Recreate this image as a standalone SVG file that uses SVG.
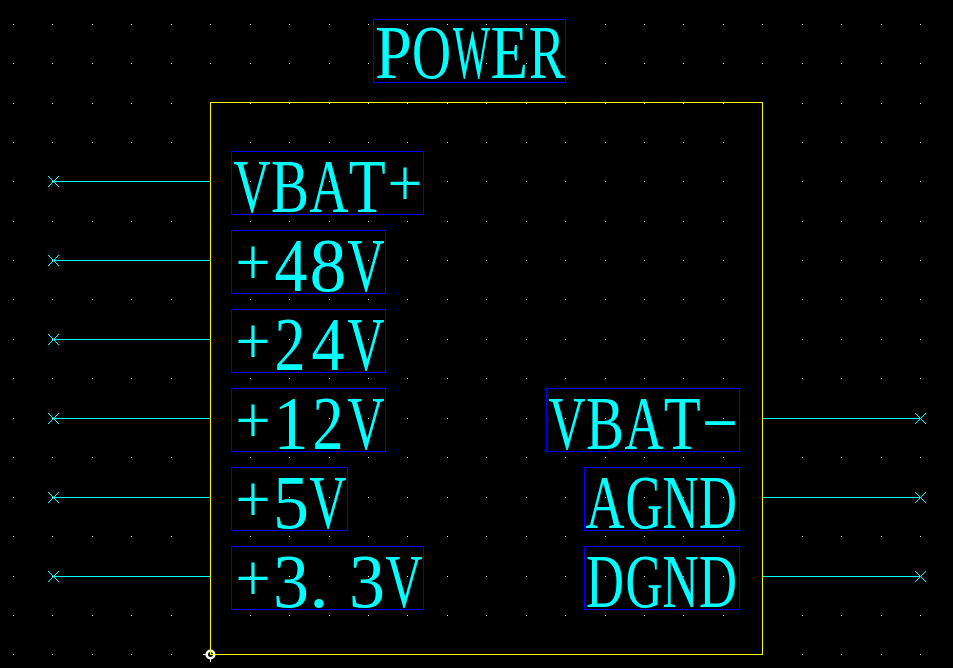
<svg xmlns="http://www.w3.org/2000/svg" xmlns:xlink="http://www.w3.org/1999/xlink" width="953" height="668" viewBox="0 0 953 668">
<style>
.lbl{font-family:"Liberation Serif","Times New Roman",serif;font-size:77px;fill:#00ffff}
.pl{font-size:68px}
.box{fill:none;stroke:#0000ff;stroke-width:1;shape-rendering:crispEdges}
.wire{stroke:#00ffff;stroke-width:1;shape-rendering:crispEdges;fill:none}
.body{fill:none;stroke:#ffff00;stroke-width:1;shape-rendering:crispEdges}
</style>
<defs>
<path id="row" fill="#ffffff" shape-rendering="crispEdges" d="M13 0h1v1h-1zM52 0h1v1h-1zM92 0h1v1h-1zM131 0h1v1h-1zM171 0h1v1h-1zM210 0h1v1h-1zM250 0h1v1h-1zM289 0h1v1h-1zM329 0h1v1h-1zM368 0h1v1h-1zM407 0h1v1h-1zM447 0h1v1h-1zM486 0h1v1h-1zM526 0h1v1h-1zM565 0h1v1h-1zM605 0h1v1h-1zM644 0h1v1h-1zM683 0h1v1h-1zM723 0h1v1h-1zM762 0h1v1h-1zM802 0h1v1h-1zM841 0h1v1h-1zM881 0h1v1h-1zM920 0h1v1h-1z"/>
<path id="x" class="wire" d="M-5.500 -5.500L5.500 5.500M-5.500 5.500L5.500 -5.500"/>
</defs>
<rect width="953" height="668" fill="#000000"/>
<g id="grid">
<use xlink:href="#row" href="#row" y="24"/><use xlink:href="#row" href="#row" y="63"/><use xlink:href="#row" href="#row" y="103"/><use xlink:href="#row" href="#row" y="142"/><use xlink:href="#row" href="#row" y="181"/><use xlink:href="#row" href="#row" y="221"/><use xlink:href="#row" href="#row" y="260"/><use xlink:href="#row" href="#row" y="299"/><use xlink:href="#row" href="#row" y="339"/><use xlink:href="#row" href="#row" y="378"/><use xlink:href="#row" href="#row" y="418"/><use xlink:href="#row" href="#row" y="457"/><use xlink:href="#row" href="#row" y="497"/><use xlink:href="#row" href="#row" y="536"/><use xlink:href="#row" href="#row" y="576"/><use xlink:href="#row" href="#row" y="615"/><use xlink:href="#row" href="#row" y="654"/>
</g>
<g id="connectors">
<path class="wire" d="M53 181.500H210M53 260.500H210M53 339.500H210M53 418.500H210M53 497.500H210M53 576.500H210M763 418.500H920M763 497.500H920M763 576.500H920"/>
<use xlink:href="#x" href="#x" x="53.500" y="181.500"/><use xlink:href="#x" href="#x" x="53.500" y="260.500"/><use xlink:href="#x" href="#x" x="53.500" y="339.500"/><use xlink:href="#x" href="#x" x="53.500" y="418.500"/><use xlink:href="#x" href="#x" x="53.500" y="497.500"/><use xlink:href="#x" href="#x" x="53.500" y="576.500"/>
<use xlink:href="#x" href="#x" x="920.500" y="418.500"/><use xlink:href="#x" href="#x" x="920.500" y="497.500"/><use xlink:href="#x" href="#x" x="920.500" y="576.500"/>
</g>
<g id="origin">
<circle cx="210.500" cy="654.500" r="3.800" fill="#000000" stroke="#ffffff" stroke-width="2.600"/>
<path d="M203 654.500H207M214 654.500H218M210.500 647V651M210.500 658V662" stroke="#ffffff" stroke-width="1" shape-rendering="crispEdges"/>
</g>
<g id="power-body"><rect class="body" x="210.500" y="102.500" width="552" height="552"/></g>
<g id="title"><rect class="box" x="373.500" y="19.500" width="192" height="63"/>
<text class="lbl" transform="scale(.5,1)" y="78"><tspan x="750" textLength="74" lengthAdjust="spacingAndGlyphs">P</tspan><tspan x="824" textLength="78" lengthAdjust="spacingAndGlyphs">O</tspan><tspan x="906" textLength="74" lengthAdjust="spacingAndGlyphs">W</tspan><tspan x="981" textLength="75" lengthAdjust="spacingAndGlyphs">E</tspan><tspan x="1058" textLength="72" lengthAdjust="spacingAndGlyphs">R</tspan></text></g>
<g id="vbat-plus"><rect class="box" x="231.500" y="151.500" width="192" height="63"/>
<text class="lbl" transform="scale(.5,1)" y="212"><tspan x="467" textLength="74" lengthAdjust="spacingAndGlyphs">V</tspan><tspan x="542" textLength="76" lengthAdjust="spacingAndGlyphs">B</tspan><tspan x="619" textLength="78" lengthAdjust="spacingAndGlyphs">A</tspan><tspan x="697.400" textLength="74" lengthAdjust="spacingAndGlyphs">T</tspan><tspan class="pl" x="775" y="206" textLength="70" lengthAdjust="spacingAndGlyphs">+</tspan></text></g>
<g id="p48v"><rect class="box" x="231.500" y="230.500" width="154" height="63"/>
<text class="lbl" transform="scale(.5,1)" y="291"><tspan class="pl" x="471" y="285" textLength="70" lengthAdjust="spacingAndGlyphs">+</tspan><tspan x="549" y="291" textLength="66" lengthAdjust="spacingAndGlyphs">4</tspan><tspan x="619" textLength="74" lengthAdjust="spacingAndGlyphs">8</tspan><tspan x="695" textLength="74" lengthAdjust="spacingAndGlyphs">V</tspan></text></g>
<g id="p24v"><rect class="box" x="231.500" y="309.500" width="154" height="63"/>
<text class="lbl" transform="scale(.5,1)" y="370"><tspan class="pl" x="471" y="364" textLength="70" lengthAdjust="spacingAndGlyphs">+</tspan><tspan x="549" y="370" textLength="62" lengthAdjust="spacingAndGlyphs">2</tspan><tspan x="623" textLength="66" lengthAdjust="spacingAndGlyphs">4</tspan><tspan x="695" textLength="74" lengthAdjust="spacingAndGlyphs">V</tspan></text></g>
<g id="p12v"><rect class="box" x="231.500" y="388.500" width="154" height="63"/>
<text class="lbl" transform="scale(.5,1)" y="449"><tspan class="pl" x="471" y="443" textLength="70" lengthAdjust="spacingAndGlyphs">+</tspan><tspan x="547" y="449" textLength="70" lengthAdjust="spacingAndGlyphs">1</tspan><tspan x="625" textLength="62" lengthAdjust="spacingAndGlyphs">2</tspan><tspan x="695" textLength="74" lengthAdjust="spacingAndGlyphs">V</tspan></text></g>
<g id="p5v"><rect class="box" x="231.500" y="467.500" width="116" height="63"/>
<text class="lbl" transform="scale(.5,1)" y="528"><tspan class="pl" x="471" y="522" textLength="70" lengthAdjust="spacingAndGlyphs">+</tspan><tspan x="546" y="528" textLength="72" lengthAdjust="spacingAndGlyphs">5</tspan><tspan x="619" textLength="74" lengthAdjust="spacingAndGlyphs">V</tspan></text></g>
<g id="p3v3"><rect class="box" x="231.500" y="546.500" width="192" height="63"/>
<text class="lbl" transform="scale(.5,1)" y="607"><tspan class="pl" x="471" y="601" textLength="70" lengthAdjust="spacingAndGlyphs">+</tspan><tspan x="546" y="607" textLength="72" lengthAdjust="spacingAndGlyphs">3</tspan><tspan x="618" textLength="40" lengthAdjust="spacingAndGlyphs">.</tspan><tspan x="698" textLength="72" lengthAdjust="spacingAndGlyphs">3</tspan><tspan x="771" textLength="74" lengthAdjust="spacingAndGlyphs">V</tspan></text></g>
<g id="vbat-minus"><rect class="box" x="546.500" y="388.500" width="193" height="63"/>
<text class="lbl" transform="scale(.5,1)" y="449"><tspan x="1097" textLength="74" lengthAdjust="spacingAndGlyphs">V</tspan><tspan x="1172" textLength="76" lengthAdjust="spacingAndGlyphs">B</tspan><tspan x="1249" textLength="78" lengthAdjust="spacingAndGlyphs">A</tspan><tspan x="1327.400" textLength="74" lengthAdjust="spacingAndGlyphs">T</tspan><tspan x="1402" y="435" textLength="76" lengthAdjust="spacingAndGlyphs" style="font-size:50px">-</tspan></text></g>
<g id="agnd"><rect class="box" x="584.500" y="467.500" width="155" height="63"/>
<text class="lbl" transform="scale(.5,1)" y="528"><tspan x="1171" textLength="78" lengthAdjust="spacingAndGlyphs">A</tspan><tspan x="1251" textLength="74" lengthAdjust="spacingAndGlyphs">G</tspan><tspan x="1325" textLength="72" lengthAdjust="spacingAndGlyphs">N</tspan><tspan x="1398" textLength="76" lengthAdjust="spacingAndGlyphs">D</tspan></text></g>
<g id="dgnd"><rect class="box" x="584.500" y="546.500" width="155" height="63"/>
<text class="lbl" transform="scale(.5,1)" y="607"><tspan x="1172" textLength="76" lengthAdjust="spacingAndGlyphs">D</tspan><tspan x="1251" textLength="74" lengthAdjust="spacingAndGlyphs">G</tspan><tspan x="1325" textLength="72" lengthAdjust="spacingAndGlyphs">N</tspan><tspan x="1398" textLength="76" lengthAdjust="spacingAndGlyphs">D</tspan></text></g>
</svg>
